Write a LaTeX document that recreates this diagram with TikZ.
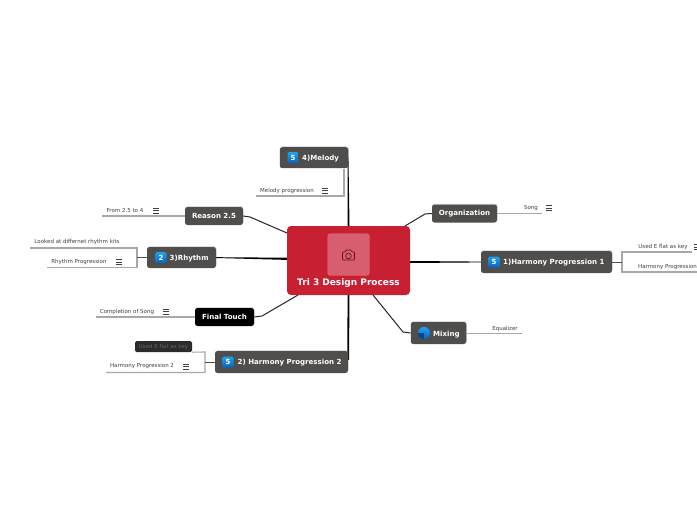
\documentclass[tikz,border=0pt]{standalone}
\usepackage{fontspec}
\setmainfont{DejaVu Sans}
\usetikzlibrary{calc}
\usetikzlibrary{backgrounds}
\usetikzlibrary{shadows}
\definecolor{topicgray}{HTML}{4F4E4D}
\definecolor{rootred}{HTML}{C82033}
\definecolor{leafgray}{HTML}{A8A8A8}
\definecolor{icontop}{HTML}{1FA3F0}
\definecolor{iconbot}{HTML}{0A62BE}
\tikzset{
 topic/.style={draw=none, fill=topicgray, rounded corners=2.5, text=white, font=\bfseries\fontsize{7.05}{8}\selectfont, minimum height=#1, inner sep=0, drop shadow={opacity=.25, shadow xshift=.5, shadow yshift=-1}},
 topic/.default=21,
 leaftext/.style={text=black!75, font=\fontsize{5.5}{6}\selectfont, inner sep=0},
 leafline/.style={leafgray, line width=1.1},
 trunk/.style={black, line width=1.8},
 thinlink/.style={black!85, line width=1},
 badge/.style={rectangle, rounded corners=1.5, minimum size=11, inner sep=0, top color=icontop, bottom color=iconbot, text=white, font=\bfseries\fontsize{7}{8}\selectfont},
 topictext/.style={text=white, font=\bfseries\fontsize{7.05}{8}\selectfont, inner sep=0, anchor=west},
}
\begin{document}
\begin{tikzpicture}[x=1pt, y=-1pt]
\useasboundingbox (0,0) rectangle (697,520);
% root
\node[fill=rootred, rounded corners=4, minimum width=123, minimum height=69, inner sep=0] (root) at (348.5,260.5) {};
\node[fill=white!28!rootred, draw=white!40!rootred, line width=.4, rounded corners=2.5, minimum size=41.5, inner sep=0] (photo) at (348.5,254.5) {};
\node[text=white, font=\bfseries\fontsize{9}{10}\selectfont, inner sep=0] (title) at (348.5,283.5) {Tri 3 Design Process};
% camera in the photo box
\draw[black!55!rootred, line width=.6, rounded corners=.8] (342.5,252) -- (345,252) -- (346,250) -- (351,250) -- (352,252) -- (354.5,252) -- (354.5,260) -- (342.5,260) -- cycle;
\draw[black!55!rootred, line width=.6] (348.5,256) circle (2.8);
% topics
\node[topic, minimum width=68.5] (melody) at (314,157.7) {};
\node[topic=18, minimum width=58] (reason) at (214,216) {\raisebox{-.4pt}{Reason 2.5}};
\node[topic, minimum width=69] (rhythm) at (181.5,257.5) {};
\node[topic=18, minimum width=59, fill=black] (final) at (224.5,317) {\raisebox{-.4pt}{Final Touch}};
\node[topic=22, minimum width=133] (harmonytwo) at (281.5,362) {};
\node[topic=18, minimum width=65] (organization) at (464.5,213.5) {\raisebox{-.4pt}{Organization}};
\node[topic=22, minimum width=131] (harmonyone) at (546.5,262) {};
\node[topic=22, minimum width=55.5] (mixing) at (438.5,333) {};
% text beside the badges
\node[topictext] (melodytext) at (302,158.8) {4)Melody};
\node[topictext] (rhythmtext) at (169.5,258.8) {3)Rhythm};
\node[topictext] (harmonytwotext) at (237.5,363) {2) Harmony Progression 2};
\node[topictext] (harmonyonetext) at (503,263) {1)Harmony Progression 1};
\node[topictext] (mixingtext) at (433,334.3) {Mixing};
% badges
\node[badge] (melodybadge) at (293,157.5) {5};
\node[badge] (rhythmbadge) at (161,257.5) {2};
\node[badge] (harmonytwobadge) at (228,362) {5};
\node[badge] (harmonyonebadge) at (494,262) {5};
\node[circle, minimum size=12, inner sep=0, top color=icontop, bottom color=iconbot] (mixingbadge) at (424,333) {};
\fill[black!30!iconbot] (mixingbadge.center) -- (mixingbadge.west) arc[start angle=180, end angle=90, radius=6] -- cycle;
% leaf texts
\node[leaftext] (melodyleaf) at (287,191) {Melody progression};
\node[leaftext] (reasonleaf) at (125,210.5) {From 2.5 to 4};
\node[leaftext] (kitsleaf) at (77,242) {Looked at differnet rhythm kits};
\node[leaftext] (rhythmleaf) at (79,262) {Rhythm Progression};
\node[leaftext] (finalleaf) at (127,311.5) {Completion of Song};
\node[fill=black!83, rounded corners=1.5, minimum width=57, minimum height=11, font=\fontsize{5.5}{6}\selectfont, text=black!60, inner sep=0] (keyleaftwo) at (163.5,346.5) {Used E flat as key};
\node[leaftext] (harmonytwoleaf) at (142,366) {Harmony Progression 2};
\node[leaftext] (songleaf) at (531,208) {Song};
\node[leaftext] (keyleafone) at (663,247) {Used E flat as key};
\node[leaftext, anchor=west] (harmonyoneleaf) at (638,267) {Harmony Progression};
\node[leaftext] (equalizerleaf) at (505,328.5) {Equalizer};
% free ends of the leaf lines
\coordinate (melodyend) at (256,196);
\coordinate (reasonend) at (102,216);
\coordinate (kitsend) at (30,248);
\coordinate (rhythmend) at (47,267.5);
\coordinate (finalend) at (96,317);
\coordinate (harmonytwoend) at (106,372.5);
\coordinate (songend) at (542,213.5);
\coordinate (keyend) at (692,252);
\coordinate (harmonyoneend) at (697,272);
\coordinate (equalizerend) at (522,333.5);
% leaf lines
\draw[leafline] (melodyend) -- ++(88,0) -- (344,168.5);
\draw[leafline] (reasonend) -- (reason.west);
\draw[leafline] (finalend) -- (final.west);
\draw[leafline] (songend) -- (organization.east);
\draw[leafline] (equalizerend) -- (mixing.east |- equalizerend);
\draw[leafline] (kitsend) -- (137,248) -- (137,267.5) -- (rhythmend);
\draw[leafline] (keyleaftwo.south east) -- (205,352) -- (205,372.5) -- (harmonytwoend);
\draw[leafline] (keyend) -- (622,252) -- (622,272) -- (harmonyoneend);
\draw[topicgray, line width=.8] (rhythm.west) -- (137,257.5);
\draw[topicgray, line width=.8] (harmonytwo.west) -- (205,362);
\draw[topicgray, line width=.8] (harmonyone.east) -- (622,262);
% menu marks
\foreach \x/\y in {325/190.5,156/210.5,119/262,166/311.5,186/366.5,549/208,697/247} {
 \foreach \d in {-2.5,0,2.5} {
  \draw[black!75, line width=.6] (\x-3,\y+\d) --++(6,0);
 }
}
% links to the root
\begin{scope}[on background layer]
\fill[white] (0,0) rectangle (697,520);
\fill[black] ($(root.west |- rhythm)+(0,.2)$) -- ($(root.west |- rhythm)+(0,2.4)$) -- ($(rhythm.east)+(0,.5)$) -- ($(rhythm.east)+(0,-.3)$) -- cycle;
\fill[black] ($(root.east |- harmonyone)+(0,-1)$) -- ($(root.east |- harmonyone)+(0,1)$) -- ($(harmonyone.west)+(0,.4)$) -- ($(harmonyone.west)+(0,-.4)$) -- cycle;
\fill[black] ($(root.north)+(-1,0)$) -- ($(root.north)+(1,0)$) -- (melody.east) -- ($(melody.east)+(-.8,0)$) -- cycle;
\draw[trunk] (root.south) -- ($(harmonytwo.north east)+(0,9)$);
\draw[thinlink] (287,233) -- (250,217) -- (reason.east);
\draw[thinlink] (298,295) -- (262,316) -- (final.east);
\draw[thinlink] (405,226) -- (425,214) -- (organization.west);
\draw[thinlink] (373,295) -- (403,332) -- (mixing.west);
\end{scope}
\end{tikzpicture}
\end{document}
